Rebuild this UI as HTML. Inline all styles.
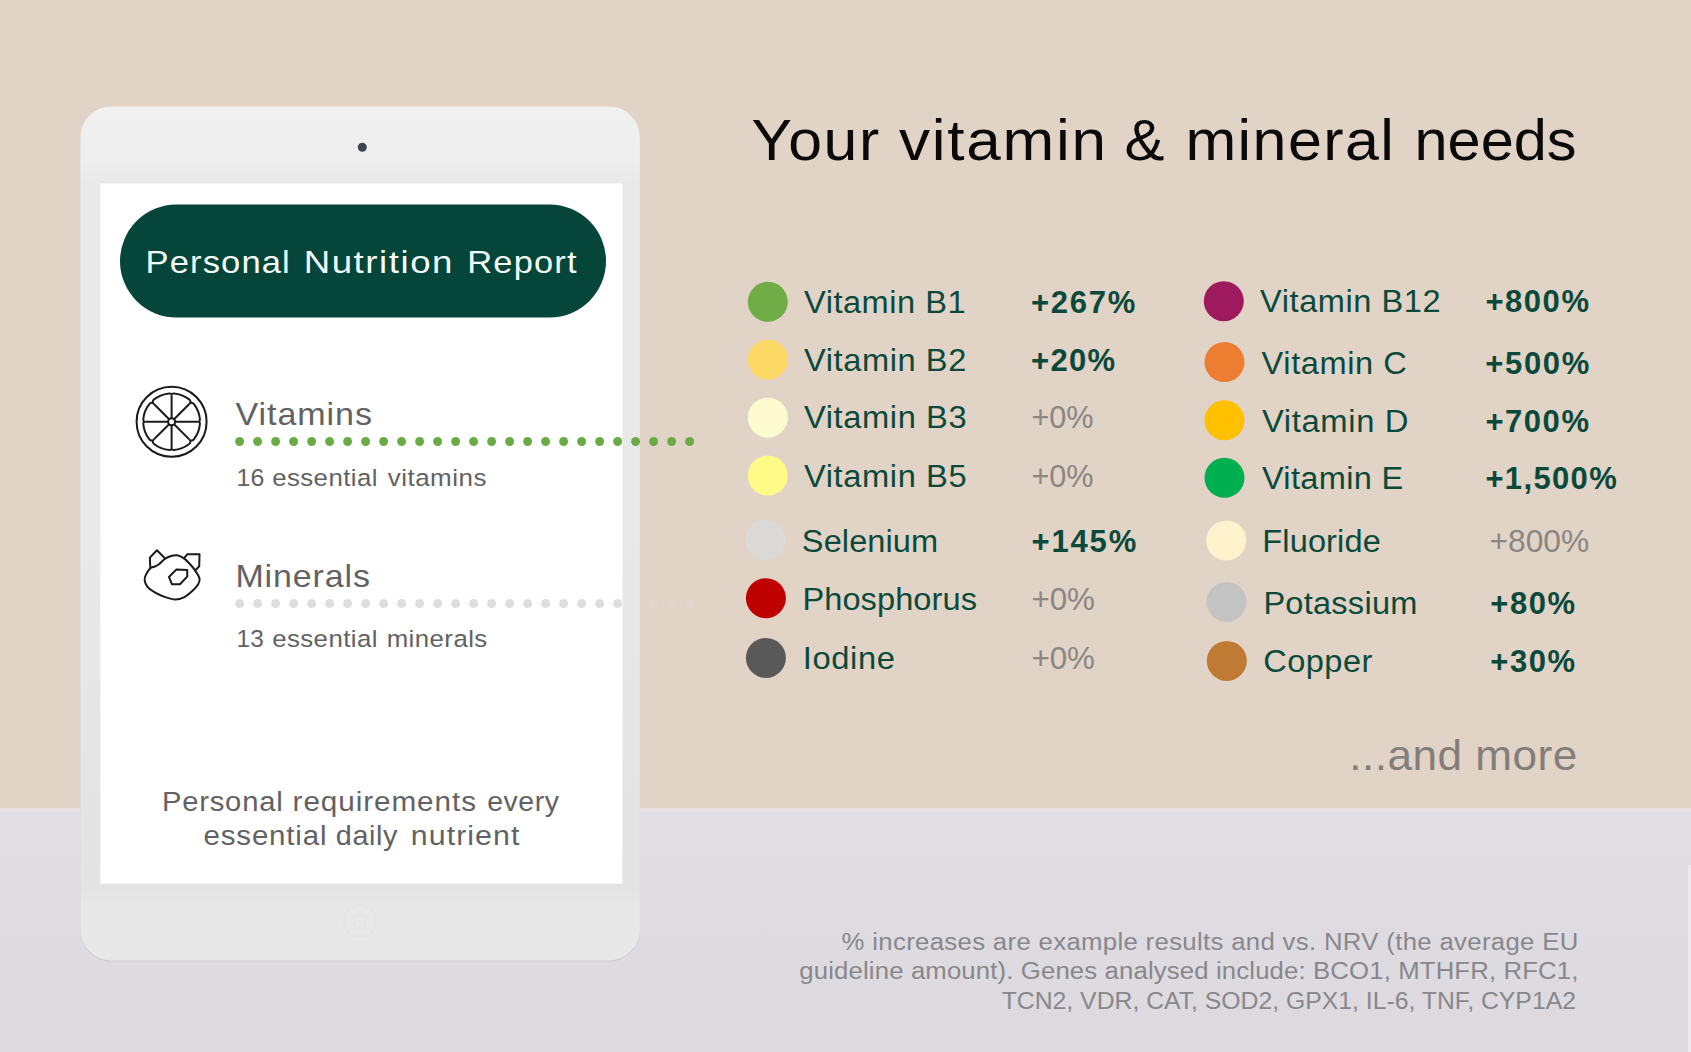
<!DOCTYPE html>
<html lang="en"><head><meta charset="utf-8"><title>Your vitamin &amp; mineral needs</title>
<style>
html,body{margin:0;padding:0;background:#e2d3c7;overflow:hidden}
svg{display:block;font-family:"Liberation Sans",sans-serif}
</style></head><body>
<svg width="1691" height="1052" viewBox="0 0 1691 1052">
<defs>
<linearGradient id="tb" x1="0" y1="0" x2="0" y2="1">
<stop offset="0" stop-color="#f0f0f0"/><stop offset="0.06" stop-color="#eeeeee"/><stop offset="0.09" stop-color="#e9e9e9"/><stop offset="0.5" stop-color="#e9e9e9"/><stop offset="0.91" stop-color="#e3e3e3"/><stop offset="0.94" stop-color="#e8e8e8"/><stop offset="1" stop-color="#e8e8e8"/>
</linearGradient>
<linearGradient id="lo" x1="0" y1="0" x2="0" y2="1">
<stop offset="0" stop-color="#e7e3e6"/><stop offset="0.02" stop-color="#e2dfe4"/><stop offset="0.35" stop-color="#dedce0"/><stop offset="1" stop-color="#dcdade"/>
</linearGradient>
</defs>
<rect x="0" y="0" width="1691" height="1052" fill="#e2d3c7"/>
<rect x="0" y="808.3" width="1691" height="244" fill="url(#lo)"/>
<rect x="1688" y="865" width="3" height="187" fill="#ebe9ec"/>
<!-- tablet -->
<rect x="80.3" y="107.6" width="559.6" height="854" rx="31" ry="31" fill="#cdcbd0"/>
<rect x="80.3" y="106.4" width="559.6" height="854" rx="31" ry="31" fill="url(#tb)"/>
<rect x="100.4" y="183.4" width="522" height="700.2" fill="#ffffff"/>
<circle cx="362.3" cy="147.2" r="4.5" fill="#41434f"/>
<circle cx="360" cy="921" r="16" fill="none" stroke="#dfdfdf" stroke-width="2" opacity="0.45"/>
<rect x="354" y="915" width="12" height="12" rx="3" fill="none" stroke="#dddddd" stroke-width="1.5" opacity="0.45"/>
<!-- pill -->
<rect x="120" y="204.5" width="486" height="113" rx="56.5" fill="#06453a"/>
<!-- icons -->
<g fill="none" stroke="#1a1a1a" stroke-width="2">
<circle cx="171.6" cy="421.7" r="35"/>
<circle cx="171.6" cy="421.7" r="3.5"/>
<path d="M175.10,421.70 L197.80,421.70 M174.07,419.23 L189.28,404.02 M171.60,418.20 L171.60,395.50 M169.13,419.23 L153.92,404.02 M168.10,421.70 L145.40,421.70 M169.13,424.17 L153.92,439.38 M171.60,425.20 L171.60,447.90 M174.07,424.17 L189.28,439.38 "/>
<path d="M197.80,421.70 Q200.00,421.70 199.91,419.50 A28.4,28.4 0 0 0 193.94,404.16 Q191.68,401.62 189.28,404.02 M189.28,404.02 Q191.68,401.62 189.14,399.36 A28.4,28.4 0 0 0 173.80,393.39 Q171.60,393.30 171.60,395.50 M171.60,395.50 Q171.60,393.30 169.40,393.39 A28.4,28.4 0 0 0 154.06,399.36 Q151.52,401.62 153.92,404.02 M153.92,404.02 Q151.52,401.62 149.26,404.16 A28.4,28.4 0 0 0 143.29,419.50 Q143.20,421.70 145.40,421.70 M145.40,421.70 Q143.20,421.70 143.29,423.90 A28.4,28.4 0 0 0 149.26,439.24 Q151.52,441.78 153.92,439.38 M153.92,439.38 Q151.52,441.78 154.06,444.04 A28.4,28.4 0 0 0 169.40,450.01 Q171.60,450.10 171.60,447.90 M171.60,447.90 Q171.60,450.10 173.80,450.01 A28.4,28.4 0 0 0 189.14,444.04 Q191.68,441.78 189.28,439.38 M189.28,439.38 Q191.68,441.78 193.94,439.24 A28.4,28.4 0 0 0 199.91,423.90 Q200.00,421.70 197.80,421.70 "/>
<path d="M150.30,568.28 C148.81,569.63 146.92,572.66 145.98,574.60 C145.04,576.54 144.43,577.92 144.65,579.92 C144.87,581.92 145.54,584.47 147.31,586.57 C149.08,588.68 152.30,590.81 155.29,592.56 C158.29,594.31 161.95,595.92 165.27,597.09 C168.60,598.25 172.15,599.50 175.25,599.55 C178.36,599.59 181.02,598.83 183.90,597.35 C186.79,595.88 190.17,592.88 192.55,590.70 C194.94,588.51 197.04,586.26 198.21,584.24 C199.37,582.23 200.04,580.86 199.54,578.59 C199.04,576.32 196.93,573.16 195.21,570.61 C193.50,568.06 191.11,565.34 189.23,563.29 C187.34,561.24 185.90,559.63 183.90,558.30 C181.91,556.97 179.25,555.74 177.25,555.30 C175.25,554.87 173.92,555.15 171.93,555.70 C169.93,556.26 167.38,557.25 165.27,558.63 C163.17,560.00 161.01,562.64 159.29,563.95 C157.57,565.26 156.46,565.76 154.96,566.48 C153.47,567.20 151.80,566.92 150.30,568.28 Z M150.30,568.28 L149.84,557.63 L156.96,550.31 L165.27,558.63 M183.90,558.30 L187.23,554.30 L199.54,554.30 L199.21,566.28 L195.21,570.47" stroke-linejoin="round"/>
<path d="M176.25,569.61 L187.23,569.94 L187.23,576.59 L179.91,584.24 L171.93,584.24 L168.93,576.93 Z" stroke-linejoin="round"/>
</g>
<circle cx="239.6" cy="441.5" r="4.45" fill="#6cab43"/>
<circle cx="257.6" cy="441.5" r="4.45" fill="#6cab43"/>
<circle cx="275.6" cy="441.5" r="4.45" fill="#6cab43"/>
<circle cx="293.6" cy="441.5" r="4.45" fill="#6cab43"/>
<circle cx="311.6" cy="441.5" r="4.45" fill="#6cab43"/>
<circle cx="329.6" cy="441.5" r="4.45" fill="#6cab43"/>
<circle cx="347.6" cy="441.5" r="4.45" fill="#6cab43"/>
<circle cx="365.6" cy="441.5" r="4.45" fill="#6cab43"/>
<circle cx="383.6" cy="441.5" r="4.45" fill="#6cab43"/>
<circle cx="401.6" cy="441.5" r="4.45" fill="#6cab43"/>
<circle cx="419.6" cy="441.5" r="4.45" fill="#6cab43"/>
<circle cx="437.6" cy="441.5" r="4.45" fill="#6cab43"/>
<circle cx="455.6" cy="441.5" r="4.45" fill="#6cab43"/>
<circle cx="473.6" cy="441.5" r="4.45" fill="#6cab43"/>
<circle cx="491.6" cy="441.5" r="4.45" fill="#6cab43"/>
<circle cx="509.6" cy="441.5" r="4.45" fill="#6cab43"/>
<circle cx="527.6" cy="441.5" r="4.45" fill="#6cab43"/>
<circle cx="545.6" cy="441.5" r="4.45" fill="#6cab43"/>
<circle cx="563.6" cy="441.5" r="4.45" fill="#6cab43"/>
<circle cx="581.6" cy="441.5" r="4.45" fill="#6cab43"/>
<circle cx="599.6" cy="441.5" r="4.45" fill="#6cab43"/>
<circle cx="617.6" cy="441.5" r="4.45" fill="#6cab43"/>
<circle cx="635.6" cy="441.5" r="4.45" fill="#6cab43"/>
<circle cx="653.6" cy="441.5" r="4.45" fill="#6cab43"/>
<circle cx="671.6" cy="441.5" r="4.45" fill="#6cab43"/>
<circle cx="689.6" cy="441.5" r="4.45" fill="#6cab43"/>
<circle cx="239.6" cy="603.5" r="4.45" fill="#dedede"/>
<circle cx="257.6" cy="603.5" r="4.45" fill="#dedede"/>
<circle cx="275.6" cy="603.5" r="4.45" fill="#dedede"/>
<circle cx="293.6" cy="603.5" r="4.45" fill="#dedede"/>
<circle cx="311.6" cy="603.5" r="4.45" fill="#dedede"/>
<circle cx="329.6" cy="603.5" r="4.45" fill="#dedede"/>
<circle cx="347.6" cy="603.5" r="4.45" fill="#dedede"/>
<circle cx="365.6" cy="603.5" r="4.45" fill="#dedede"/>
<circle cx="383.6" cy="603.5" r="4.45" fill="#dedede"/>
<circle cx="401.6" cy="603.5" r="4.45" fill="#dedede"/>
<circle cx="419.6" cy="603.5" r="4.45" fill="#dedede"/>
<circle cx="437.6" cy="603.5" r="4.45" fill="#dedede"/>
<circle cx="455.6" cy="603.5" r="4.45" fill="#dedede"/>
<circle cx="473.6" cy="603.5" r="4.45" fill="#dedede"/>
<circle cx="491.6" cy="603.5" r="4.45" fill="#dedede"/>
<circle cx="509.6" cy="603.5" r="4.45" fill="#dedede"/>
<circle cx="527.6" cy="603.5" r="4.45" fill="#dedede"/>
<circle cx="545.6" cy="603.5" r="4.45" fill="#dedede"/>
<circle cx="563.6" cy="603.5" r="4.45" fill="#dedede"/>
<circle cx="581.6" cy="603.5" r="4.45" fill="#dedede"/>
<circle cx="599.6" cy="603.5" r="4.45" fill="#dedede"/>
<circle cx="617.6" cy="603.5" r="4.45" fill="#dedede"/>
<circle cx="653.6" cy="603.5" r="4.45" fill="#e4dad2" opacity="0.45"/>
<circle cx="671.6" cy="603.5" r="4.45" fill="#e4dad2" opacity="0.45"/>
<circle cx="689.6" cy="603.5" r="4.45" fill="#e4dad2" opacity="0.45"/>
<circle cx="767.8" cy="301.8" r="20" fill="#70ad47"/>
<circle cx="767.8" cy="359.7" r="20" fill="#ffd966"/>
<circle cx="767.8" cy="417.7" r="20" fill="#fffbd0"/>
<circle cx="767.8" cy="475.6" r="20" fill="#fffb86"/>
<circle cx="765.4" cy="539.9" r="20" fill="#dbdad9"/>
<circle cx="765.9" cy="598.2" r="20" fill="#bf0000"/>
<circle cx="765.9" cy="657.9" r="20" fill="#595959"/>
<circle cx="1223.8" cy="301.2" r="20" fill="#9f195f"/>
<circle cx="1224.5" cy="362.1" r="20" fill="#ed7d31"/>
<circle cx="1224.5" cy="420.3" r="20" fill="#ffc000"/>
<circle cx="1224.5" cy="477.8" r="20" fill="#00b050"/>
<circle cx="1226.3" cy="540.5" r="20" fill="#fff2cc"/>
<circle cx="1226.6" cy="601.9" r="20" fill="#c3c3c3"/>
<circle cx="1226.8" cy="660.9" r="20" fill="#bf7a34"/>
<text transform="translate(751.53,160.10) scale(1.0657,1)" font-size="57" fill="#0a0a0a" letter-spacing="1.565">Your</text>
<text transform="translate(899.00,160.10) scale(1.0887,1)" font-size="57" fill="#0a0a0a" letter-spacing="1.602">vitamin</text>
<text transform="translate(1124.40,160.10) scale(1.0500,1)" font-size="57" fill="#0a0a0a">&amp;</text>
<text transform="translate(1185.39,160.10) scale(1.0705,1)" font-size="57" fill="#0a0a0a" letter-spacing="1.319">mineral</text>
<text transform="translate(1414.47,160.10) scale(1.0437,1)" font-size="57" fill="#0a0a0a">needs</text>
<text transform="translate(145.50,273.30) scale(1.0976,1)" font-size="31.5" fill="#f4fffb" letter-spacing="1.019">Personal</text>
<text transform="translate(303.67,273.30) scale(1.1631,1)" font-size="31.5" fill="#f4fffb" letter-spacing="1.329">Nutrition</text>
<text transform="translate(467.31,273.30) scale(1.0938,1)" font-size="31.5" fill="#f4fffb" letter-spacing="1.061">Report</text>
<text transform="translate(235.50,424.80) scale(1.0815,1)" font-size="31.5" fill="#626262" letter-spacing="0.858">Vitamins</text>
<text transform="translate(236.58,485.70) scale(1.0185,1)" font-size="24.5" fill="#626262">16</text>
<text transform="translate(272.15,485.70) scale(1.0544,1)" font-size="24.5" fill="#626262" letter-spacing="0.405">essential</text>
<text transform="translate(387.70,485.70) scale(1.0596,1)" font-size="24.5" fill="#626262" letter-spacing="0.480">vitamins</text>
<text transform="translate(235.44,586.50) scale(1.0785,1)" font-size="31.5" fill="#626262" letter-spacing="0.806">Minerals</text>
<text transform="translate(236.60,646.80) scale(0.9951,1)" font-size="24.5" fill="#626262">13</text>
<text transform="translate(272.15,646.80) scale(1.0544,1)" font-size="24.5" fill="#626262" letter-spacing="0.405">essential</text>
<text transform="translate(386.65,646.80) scale(1.0524,1)" font-size="24.5" fill="#626262" letter-spacing="0.433">minerals</text>
<text transform="translate(161.94,810.60) scale(1.0807,1)" font-size="27" fill="#626262" letter-spacing="0.737">Personal</text>
<text transform="translate(292.60,810.60) scale(1.0989,1)" font-size="27" fill="#626262" letter-spacing="0.851">requirements</text>
<text transform="translate(487.15,810.60) scale(1.0520,1)" font-size="27" fill="#626262" letter-spacing="0.540">every</text>
<text transform="translate(203.61,845.30) scale(1.0926,1)" font-size="27" fill="#626262" letter-spacing="0.738">essential</text>
<text transform="translate(335.83,845.30) scale(1.0651,1)" font-size="27" fill="#626262" letter-spacing="0.561">daily</text>
<text transform="translate(410.78,845.30) scale(1.1242,1)" font-size="27" fill="#626262" letter-spacing="0.943">nutrient</text>
<text transform="translate(804.00,313.20) scale(1.0500,1)" font-size="31" fill="#0b4a3b" letter-spacing="0.508">Vitamin B1</text>
<text transform="translate(1031.00,313.20) scale(1.0000,1)" font-size="31" fill="#0b4a3b" font-weight="700" letter-spacing="1.744">+267%</text>
<text transform="translate(804.00,371.00) scale(1.0527,1)" font-size="31" fill="#0b4a3b" letter-spacing="0.549">Vitamin B2</text>
<text transform="translate(1031.00,371.00) scale(1.0000,1)" font-size="31" fill="#0b4a3b" font-weight="700" letter-spacing="1.338">+20%</text>
<text transform="translate(804.00,428.20) scale(1.0535,1)" font-size="31" fill="#0b4a3b" letter-spacing="0.557">Vitamin B3</text>
<text transform="translate(1031.41,428.20) scale(0.9879,1)" font-size="31" fill="#8b8682">+0%</text>
<text transform="translate(804.00,486.50) scale(1.0535,1)" font-size="31" fill="#0b4a3b" letter-spacing="0.557">Vitamin B5</text>
<text transform="translate(1031.41,486.50) scale(0.9879,1)" font-size="31" fill="#8b8682">+0%</text>
<text transform="translate(801.85,551.70) scale(1.0500,1)" font-size="31" fill="#0b4a3b" letter-spacing="0.091">Selenium</text>
<text transform="translate(1031.50,551.70) scale(1.0000,1)" font-size="31" fill="#0b4a3b" font-weight="700" letter-spacing="1.844">+145%</text>
<text transform="translate(802.40,609.70) scale(1.0500,1)" font-size="31" fill="#0b4a3b" letter-spacing="0.096">Phosphorus</text>
<text transform="translate(1031.39,609.70) scale(1.0091,1)" font-size="31" fill="#8b8682">+0%</text>
<text transform="translate(802.79,668.60) scale(1.0560,1)" font-size="31" fill="#0b4a3b" letter-spacing="0.574">Iodine</text>
<text transform="translate(1031.39,668.60) scale(1.0091,1)" font-size="31" fill="#8b8682">+0%</text>
<text transform="translate(1260.10,312.00) scale(1.0507,1)" font-size="31" fill="#0b4a3b" letter-spacing="0.532">Vitamin B12</text>
<text transform="translate(1485.40,312.00) scale(1.0000,1)" font-size="31" fill="#0b4a3b" font-weight="700" letter-spacing="1.544">+800%</text>
<text transform="translate(1261.60,373.80) scale(1.0516,1)" font-size="31" fill="#0b4a3b" letter-spacing="0.546">Vitamin C</text>
<text transform="translate(1485.20,373.80) scale(1.0000,1)" font-size="31" fill="#0b4a3b" font-weight="700" letter-spacing="1.669">+500%</text>
<text transform="translate(1261.90,431.50) scale(1.0579,1)" font-size="31" fill="#0b4a3b" letter-spacing="0.604">Vitamin D</text>
<text transform="translate(1485.40,431.50) scale(1.0000,1)" font-size="31" fill="#0b4a3b" font-weight="700" letter-spacing="1.544">+700%</text>
<text transform="translate(1261.90,488.80) scale(1.0500,1)" font-size="31" fill="#0b4a3b" letter-spacing="0.322">Vitamin E</text>
<text transform="translate(1485.40,488.80) scale(1.0000,1)" font-size="31" fill="#0b4a3b" font-weight="700" letter-spacing="1.353">+1,500%</text>
<text transform="translate(1262.30,551.50) scale(1.0500,1)" font-size="31" fill="#0b4a3b" letter-spacing="0.123">Fluoride</text>
<text transform="translate(1489.48,551.50) scale(1.0237,1)" font-size="31" fill="#8b8682">+800%</text>
<text transform="translate(1263.40,614.20) scale(1.0500,1)" font-size="31" fill="#0b4a3b" letter-spacing="0.245">Potassium</text>
<text transform="translate(1490.30,614.20) scale(1.0000,1)" font-size="31" fill="#0b4a3b" font-weight="700" letter-spacing="1.572">+80%</text>
<text transform="translate(1263.35,671.60) scale(1.0500,1)" font-size="31" fill="#0b4a3b" letter-spacing="0.425">Copper</text>
<text transform="translate(1490.30,671.60) scale(1.0000,1)" font-size="31" fill="#0b4a3b" font-weight="700" letter-spacing="1.572">+30%</text>
<text transform="translate(1349.25,769.80) scale(1.0500,1)" font-size="42" fill="#837e7a" letter-spacing="0.478">...and more</text>
<text transform="translate(841.60,949.60) scale(1.0500,1)" font-size="24.5" fill="#88878c" letter-spacing="0.323">% increases are example results and vs. NRV (the average EU</text>
<text transform="translate(799.35,979.30) scale(1.0500,1)" font-size="24.5" fill="#88878c" letter-spacing="0.138">guideline amount). Genes analysed include: BCO1, MTHFR, RFC1,</text>
<text transform="translate(1001.70,1009.10) scale(1.0111,1)" font-size="24.5" fill="#88878c">TCN2, VDR, CAT, SOD2, GPX1, IL-6, TNF, CYP1A2</text>
</svg>
</body></html>
